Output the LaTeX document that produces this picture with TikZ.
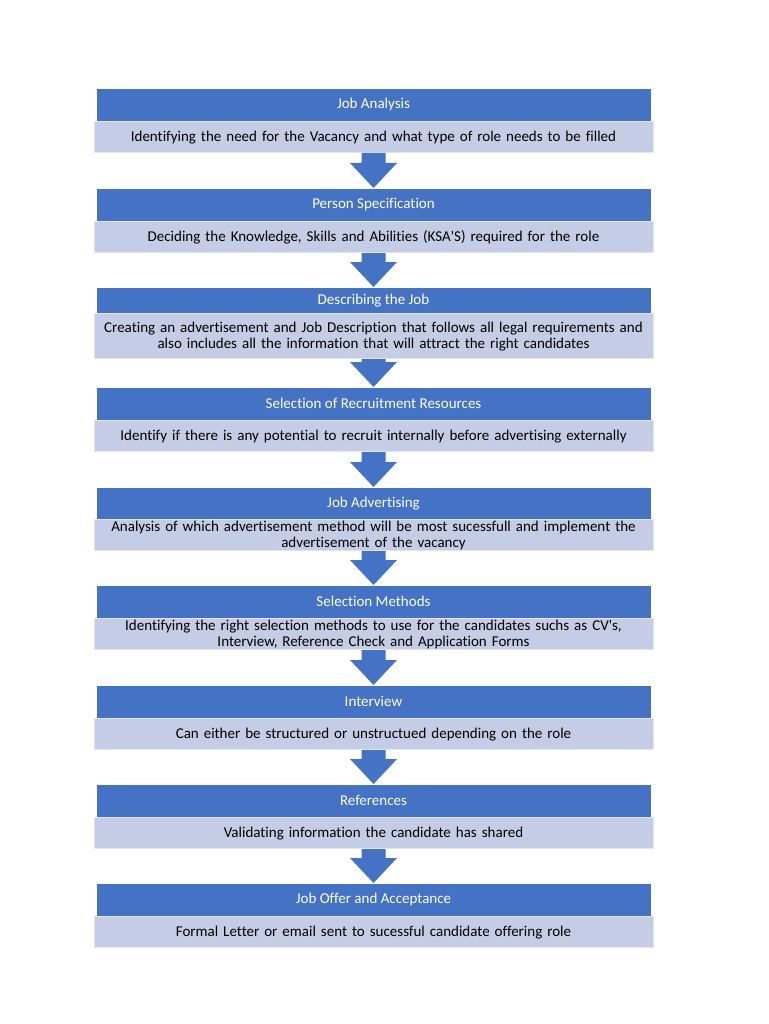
\documentclass[tikz,border=0pt]{standalone}
\usepackage{fontspec}
\setmainfont{Carlito}[Ligatures=NoCommon]
\usetikzlibrary{calc}
\definecolor{hdblue}{HTML}{4472C4}
\definecolor{bdblue}{HTML}{C4CCE6}
\begin{document}
\begin{tikzpicture}[x=1pt,y=-1pt,
  head/.style={fill=hdblue,draw=white,line width=0.4pt,text=white,minimum width=555pt,inner sep=0pt,anchor=north,font=\fontsize{15}{16}\selectfont},
  body/.style={fill=bdblue,draw=white!50!bdblue,line width=0.6pt,text=black,minimum width=559pt,text width=557pt,align=center,inner sep=0pt,anchor=north,font=\fontsize{15}{16}\selectfont}]
\useasboundingbox (0,0) rectangle (768,1024);
\foreach \i/\y/\hh/\bh/\hd/\bd in {
 1/88/33/31/{Job Analysis}/{Identifying the need for the Vacancy and what type of role needs to be filled},
 2/188/33/31/{Person Specification}/{Deciding the Knowledge, Skills and Abilities (KSA\textquotesingle S) required for the role},
 3/287/26/45/{Describing the Job}/{Creating an advertisement and Job Description that follows all legal requirements and\\also includes all the information that will attract the right candidates},
 4/387/33/31/{Selection of Recruitment Resources}/{Identify if there is any potential to recruit internally before advertising externally},
 5/487/32/31/{Job Advertising}/{Analysis of which advertisement method will be most sucessfull and implement the\\advertisement of the vacancy},
 6/585/33/31/{Selection Methods}/{Identifying the right selection methods to use for the candidates suchs as CV\textquotesingle s,\\Interview, Reference Check and Application Forms},
 7/685/33/31/{Interview}/{Can either be structured or unstructued depending on the role},
 8/784/33/31/{References}/{Validating information the candidate has shared},
 9/883/33/31/{Job Offer and Acceptance}/{Formal Letter or email sent to sucessful candidate offering role}}{
\node[head,minimum height=\hh pt] (h\i) at (373.5,\y) {\hd};
\node[body,minimum height=\bh pt] (b\i) at (h\i.south) {\bd};
}
% block arrows between the stages
\foreach \i/\j in {1/2,2/3,3/4,4/5,5/6,6/7,7/8,8/9}
\fill[hdblue] ($(b\i.south)+(-12,0)$) -- ($(h\j.north)+(-12,-25)$) -- ++(-11.5,0) -- (h\j.north) -- ++(23.5,-25) -- ++(-11.5,0) -- ($(b\i.south)+(12,0)$) -- cycle;
\end{tikzpicture}
\end{document}
